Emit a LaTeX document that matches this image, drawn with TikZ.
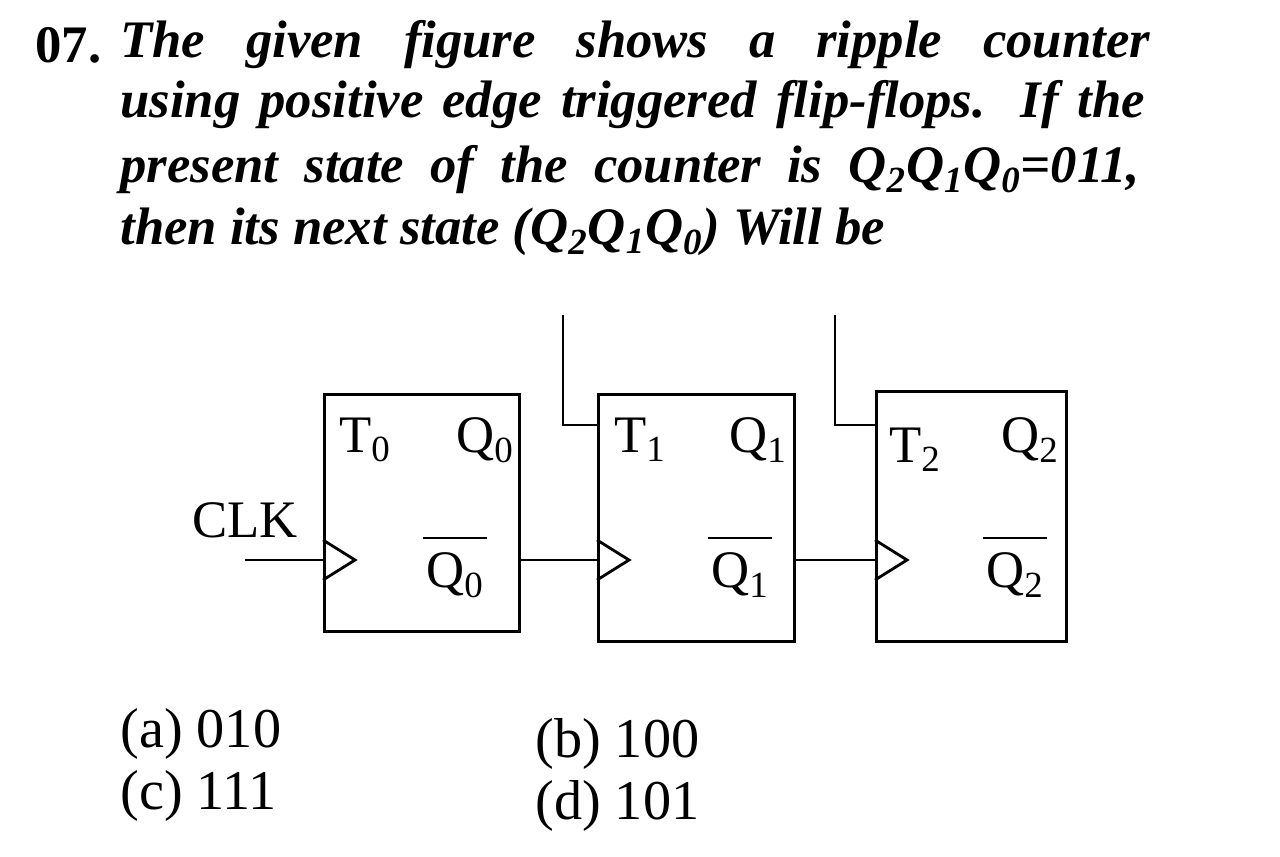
\documentclass[tikz,border=0pt]{standalone}
\usepackage{fontspec}
\setmainfont{Liberation Serif}
\newcommand{\sbx}[1]{\textsubscript{#1}}
\tikzset{ffbox/.style={draw,line width=1.6pt},wire/.style={line width=1.6pt},
lbl/.style={font=\fontsize{30}{30}\selectfont,inner sep=0pt},
title/.style={font=\fontsize{30}{30}\selectfont\bfseries\itshape,anchor=west,inner sep=0pt},
opt/.style={font=\fontsize{32}{32}\selectfont,anchor=west,inner sep=0pt}}
\begin{document}
\begin{tikzpicture}[x=0.02cm,y=-0.02cm]
\useasboundingbox (0,0) rectangle (1280,857);
\fill[white] (0,0) rectangle (1280,857);
\node[title,font=\fontsize{30}{30}\selectfont\bfseries] (l0) at (35,45) {07.};
\node[title] (l1) at (120,45) {\makebox[20.6cm][s]{The given figure shows a ripple counter}};
\node[title] (l2) at (120,105) {\makebox[20.5cm][s]{using positive edge triggered flip-flops. If the}};
\node[title] (l3) at (120,170) {\makebox[20.4cm][s]{present state of the counter is Q\sbx{2}Q\sbx{1}Q\sbx{0}=011,}};
\node[title] (l4) at (120,232) {then its next state (Q\sbx{2}Q\sbx{1}Q\sbx{0}) Will be};
% boxes
\node[ffbox,minimum width=195*0.02cm,minimum height=237*0.02cm,anchor=north west] (f0) at (323,393) {};
\node[ffbox,minimum width=196*0.02cm,minimum height=247*0.02cm,anchor=north west] (f1) at (597,393) {};
\node[ffbox,minimum width=190*0.02cm,minimum height=250*0.02cm,anchor=north west] (f2) at (875,390) {};
% clock triangles
\foreach \f/\x in {f0/323,f1/597,f2/875}{
  \draw[wire] (\x,540) -- (\x+32,560) -- (\x,580);}
% labels
\node[lbl] (t0) at (365,440) {T\sbx{0}};
\node[lbl] (q0) at (485,440) {Q\sbx{0}};
\node[lbl] (t1) at (640,440) {T\sbx{1}};
\node[lbl] (q1) at (758,440) {Q\sbx{1}};
\node[lbl] (t2) at (915,450) {T\sbx{2}};
\node[lbl] (q2) at (1030,440) {Q\sbx{2}};
\node[lbl] (nq0) at (455,575) {Q\sbx{0}};
\node[lbl] (nq1) at (740,575) {Q\sbx{1}};
\node[lbl] (nq2) at (1015,575) {Q\sbx{2}};
\foreach \x in {455,740,1015}{\draw[line width=1.4pt] (\x-32,538) -- (\x+32,538);}
\node[lbl] (clk) at (245,520) {CLK};
% wires
\coordinate (c0) at (245,560);
\draw[wire] (c0) -- (323,560);
\draw[wire] (518,560) -- (597,560);
\draw[wire] (793,560) -- (875,560);
\coordinate (i1) at (563,315);
\coordinate (i2) at (835,315);
\draw[wire] (i1) -- (563,425) -- (597,425);
\draw[wire] (i2) -- (835,425) -- (875,425);
% options
\node[opt] (a) at (120,734) {(a) 010};
\node[opt] (c) at (120,796) {(c) 111};
\node[opt] (b) at (535,744) {(b) 100};
\node[opt] (d) at (535,806) {(d) 101};
\end{tikzpicture}
\end{document}
